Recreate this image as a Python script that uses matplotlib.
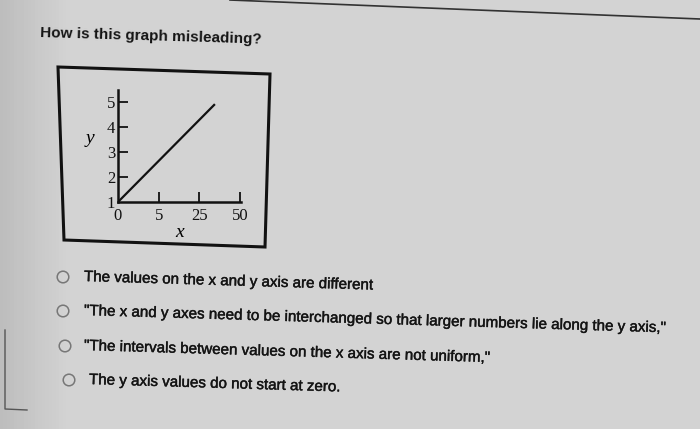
import numpy as np
import matplotlib
matplotlib.use('Agg')
import matplotlib.pyplot as plt
import matplotlib.patheffects as pe
from matplotlib.patches import Polygon, Circle

# quiz text
title = "How is this graph misleading?"
options = [
    "The values on the x and y axis are different",
    "\"The x and y axes need to be interchanged so that larger numbers lie along the y axis,\"",
    "\"The intervals between values on the x axis are not uniform,\"",
    "The y axis values do not start at zero.",
]

# the small graph
x_labels = ["0", "5", "25", "50"]
y_ticks = [1, 2, 3, 4, 5]
line_x = [0, 2.36]
line_y = [1, 4.9]

fig = plt.figure(figsize=(7, 4.29), dpi=100)

# background axes in pixel units
bg = fig.add_axes([0, 0, 1, 1])
bg.set_xlim(0, 700)
bg.set_ylim(429, 0)
bg.axis('off')
grad = np.linspace(0, 1, 200)
shade = 0.74 + 0.09 * np.clip(grad * 10, 0, 1)
img = np.tile(shade, (50, 1))
bg.imshow(img, cmap='gray', vmin=0, vmax=1, extent=[0, 700, 429, 0], aspect='auto')

# photo edges
bg.plot([230, 700], [0, 19], color='#333333', lw=1.2)
bg.plot([5, 5, 27], [330, 409, 410], color='#555555', lw=1.0)

txt = dict(family='Liberation Sans', color='#141414', rotation=-1.7,
           rotation_mode='anchor', ha='left', va='center')
bolder = [pe.withStroke(linewidth=0.3, foreground='#141414')]
bg.text(40, 33, title, fontsize=11, fontweight='bold', **txt)

opt_x = [84, 84, 84, 89]
opt_y = [277, 311, 346, 380]
circ_x = [63, 63, 65, 69]
for i, s in enumerate(options):
    bg.add_patch(Circle((circ_x[i], opt_y[i]), 5.8, fill=False, ec='#777777', lw=1.1))
    bg.text(opt_x[i], opt_y[i], s, fontsize=10.9, path_effects=bolder, **txt)

# frame around the graph
bg.add_patch(Polygon([[58, 67], [270, 74], [265, 247], [64, 240]], closed=True,
                     fill=False, ec='#111111', lw=2.2))

# the graph itself
ax = fig.add_axes([118 / 700, 1 - 202 / 429, 123 / 700, 112 / 429])
ax.patch.set_alpha(0)
ax.plot(line_x, line_y, color='#111111', lw=1.6)
ax.set_xlim(0, 3.02)
ax.set_ylim(1, 5.5)
ax.set_xticks(range(len(x_labels)))
ax.set_xticklabels(x_labels)
ax.set_yticks(y_ticks)
ax.set_yticklabels([str(v) for v in y_ticks])
for sp in ['top', 'right']:
    ax.spines[sp].set_visible(False)
for sp in ['left', 'bottom']:
    ax.spines[sp].set_linewidth(1.8)
    ax.spines[sp].set_color('#111111')
ax.tick_params(direction='in', length=7, width=1.3, color='#111111', pad=4,
               labelsize=12, labelcolor='#111111')
ax.tick_params(axis='y', pad=2)
ax.xaxis.get_major_ticks()[0].tick1line.set_visible(False)
ax.yaxis.get_major_ticks()[0].tick1line.set_visible(False)
for lab in ax.get_xticklabels() + ax.get_yticklabels():
    lab.set_family('Liberation Serif')
ax.set_xlabel('x', family='Liberation Serif', style='italic', fontsize=14, labelpad=0)
ax.set_ylabel('y', family='Liberation Serif', style='italic', fontsize=14,
              rotation=0, labelpad=10)
ax.yaxis.set_label_coords(-0.23, 0.49)

fig.savefig('out.png', dpi=100)
